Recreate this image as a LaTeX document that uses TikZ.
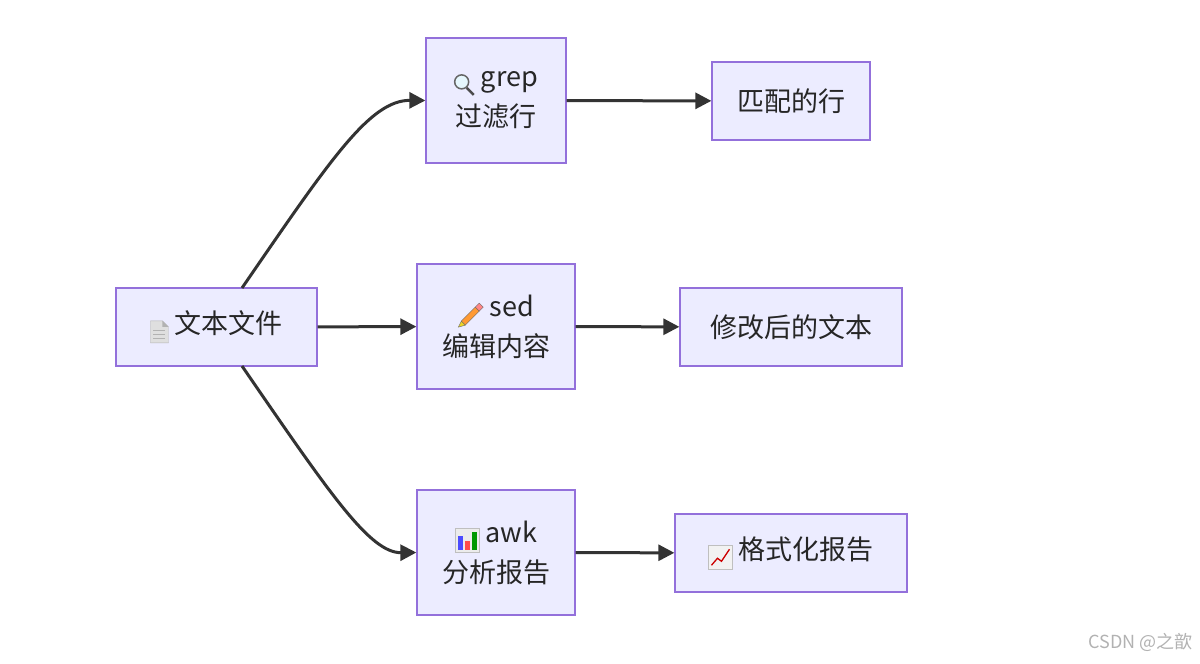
\documentclass[tikz,border=0pt]{standalone}
\usepackage{fontspec}
\setmainfont{Noto Sans CJK SC}
\usetikzlibrary{arrows.meta}
\definecolor{nfill}{HTML}{ECECFF}
\definecolor{nborder}{HTML}{9370DB}
\definecolor{edge}{HTML}{333333}
\newcommand\icdoc{\tikz[baseline=-2pt,x=1pt,y=1pt]{\fill[gray!25,draw=gray!60] (-9,-11)--(-9,11)--(3,11)--(9,5)--(9,-11)--cycle;\fill[gray!60](3,11)--(3,5)--(9,5)--cycle;\foreach \yy in {-6,-2,2}\draw[gray!60](-6,\yy)--(6,\yy);}}
\newcommand\icmag{\tikz[baseline=-2pt,x=1pt,y=1pt]{\draw[line width=2.5pt,black!70](3,-3)--(10,-10);\draw[line width=1.5pt,black!60,fill=cyan!10](-2,3) circle (7);}}
\newcommand\icpen{\tikz[baseline=-2pt,x=1pt,y=1pt]{\fill[orange!80,draw=black!60] (-9,-7)--(5,7)--(9,3)--(-5,-11)--cycle;\fill[pink!70!red,draw=black!60](5,7)--(9,11)--(13,7)--(9,3)--cycle;\fill[yellow!70!brown,draw=black!60](-9,-7)--(-5,-11)--(-12,-13)--cycle;}}
\newcommand\icbar{\tikz[baseline=-2pt,x=1pt,y=1pt]{\fill[gray!15,draw=gray!50](-12,-12) rectangle (12,12);\fill[blue!70](-9,-10) rectangle (-4,4);\fill[red!70](-2,-10) rectangle (3,-1);\fill[green!60!black](5,-10) rectangle (10,8);}}
\newcommand\icline{\tikz[baseline=-2pt,x=1pt,y=1pt]{\fill[gray!10,draw=gray!50](-12,-12) rectangle (12,12);\draw[red!80!black,line width=1.3pt](-9,-8)--(-3,-1)--(1,-4)--(9,8);}}
\begin{document}
\begin{tikzpicture}[x=1pt,y=-1pt,
  box/.style={draw=nborder,fill=nfill,line width=1.3pt,inner sep=0pt,align=center,font=\fontsize{27}{40}\selectfont,text=black!85},
  arr/.style={draw=edge,line width=3pt,-{Triangle[length=16pt,width=16pt]}}]
\useasboundingbox (0,0) rectangle (1200,664);
\node[box,minimum width=201pt,minimum height=78pt] (file) at (216.5,327) {\icdoc\ 文本文件};
\node[box,minimum width=140pt,minimum height=125pt] (grep) at (496,100.5) {\icmag\ grep\\过滤行};
\node[box,minimum width=158pt,minimum height=125pt] (sed) at (496,326.5) {\icpen\ sed\\编辑内容};
\node[box,minimum width=158pt,minimum height=125pt] (awk) at (496,552.5) {\icbar\ awk\\分析报告};
\node[box,minimum width=158pt,minimum height=78pt] (match) at (791,101) {匹配的行};
\node[box,minimum width=222pt,minimum height=78pt] (mod) at (791,327) {修改后的文本};
\node[box,minimum width=232pt,minimum height=78pt] (rep) at (791,553) {\icline\ 格式化报告};
\coordinate (ft) at (242,288);
\coordinate (fb) at (242,366);
\draw[arr] (ft) .. controls (330,160) and (370,100) .. (grep.west);
\draw[arr] (fb) .. controls (330,494) and (370,553) .. (awk.west);
\draw[arr] (file) -- (sed);
\draw[arr] (grep) -- (match);
\draw[arr] (sed) -- (mod);
\draw[arr] (awk) -- (rep);
\node[anchor=east,text=gray!60,font=\fontsize{18}{20}\selectfont] (wm) at (1196,642) {CSDN @之歆};
\end{tikzpicture}
\end{document}
